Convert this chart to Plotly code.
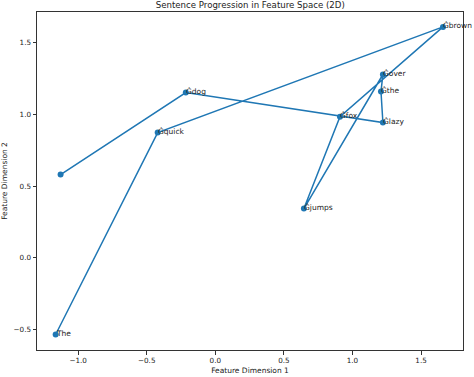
import plotly.graph_objects as go

words = ["The", "Ġquick", "Ġbrown", "Ġfox", "Ġjumps", "Ġover", "Ġthe", "Ġlazy", "Ġdog", ""]
dim1 = [-1.164, -0.420, 1.660, 0.909, 0.646, 1.222, 1.208, 1.222, -0.215, -1.128]
dim2 = [-0.535, 0.874, 1.611, 0.985, 0.344, 1.279, 1.160, 0.944, 1.153, 0.581]

x_ticks = [-1.0, -0.5, 0.0, 0.5, 1.0, 1.5]
y_ticks = [-0.5, 0.0, 0.5, 1.0, 1.5]

C = "#1f77b4"
FONT = "DejaVu Sans"
fig = go.Figure()
fig.add_trace(go.Scatter(x=dim1, y=dim2, mode="lines+markers",
                         line=dict(color=C, width=1.5),
                         marker=dict(color=C, size=6), showlegend=False,
                         hoverinfo="skip"))
for w, a, b in zip(words, dim1, dim2):
    if w:
        fig.add_annotation(x=a, y=b, text=w, showarrow=False, xanchor="left",
                           yanchor="bottom", xshift=-2, yshift=-5,
                           font=dict(family=FONT, size=7.5, color="#222"))

axis_common = dict(showline=True, linecolor="#333", linewidth=1, mirror=True,
                   ticks="outside", ticklen=3.5, tickcolor="#333", showgrid=False,
                   zeroline=False, automargin=False,
                   tickfont=dict(family=FONT, size=7.2, color="#222"))
fig.update_xaxes(range=[-1.30, 1.806], tickvals=x_ticks,
                 ticktext=[f"{v:.1f}".replace("-", "−") for v in x_ticks],
                 title=dict(text="Feature Dimension 1", standoff=3,
                            font=dict(family=FONT, size=7.5, color="#222")),
                 **axis_common)
fig.update_yaxes(range=[-0.643, 1.715], tickvals=y_ticks,
                 ticktext=[f"{v:.1f}".replace("-", "−") for v in y_ticks],
                 title=dict(text="Feature Dimension 2", standoff=4,
                            font=dict(family=FONT, size=7.5, color="#222")),
                 **axis_common)
fig.update_layout(
    width=474, height=377,
    margin=dict(l=37, r=11, t=12, b=27),
    paper_bgcolor="white", plot_bgcolor="white",
    title=dict(text="Sentence Progression in Feature Space (2D)", x=0.528, xanchor="center",
               y=0.9875, yref="container", yanchor="middle",
               font=dict(family=FONT, size=8.6, color="#222")),
)
fig.write_html("out.html", config={"displayModeBar": False},
               post_script="document.body.style.margin='0';")
